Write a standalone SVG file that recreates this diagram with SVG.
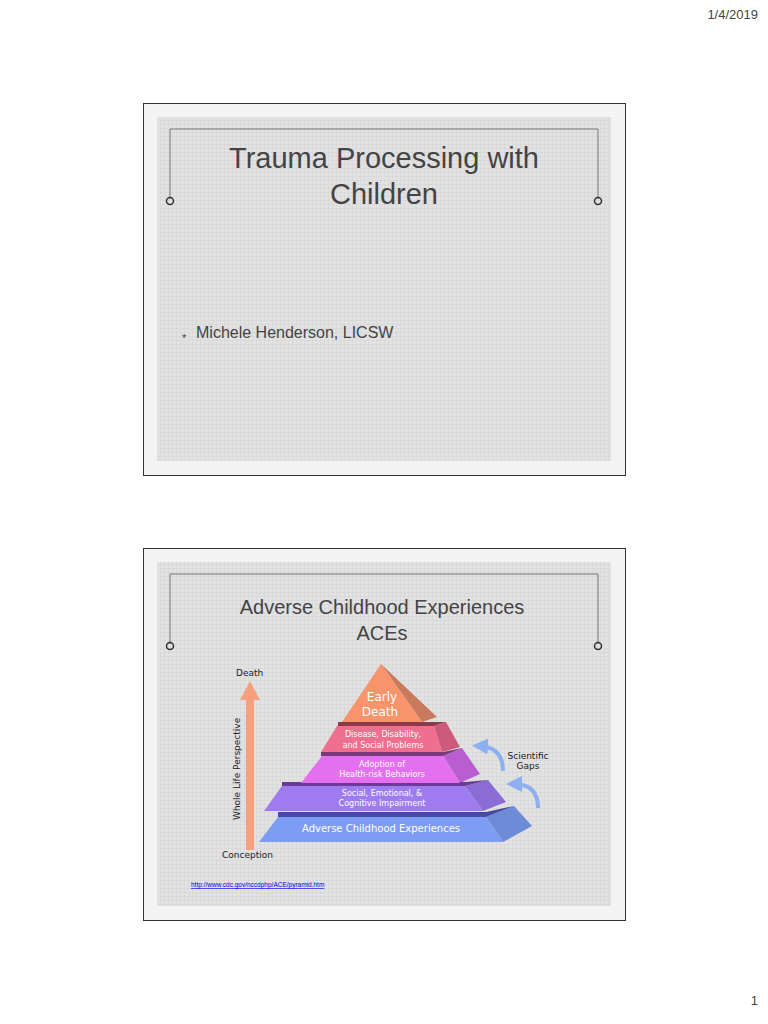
<svg xmlns="http://www.w3.org/2000/svg" width="768" height="1024" viewBox="0 0 768 1024">
<defs>
<pattern id="grid" width="4" height="4" patternUnits="userSpaceOnUse"><rect width="4" height="4" fill="#e2e2e2"/><path d="M0 0H4M0 0V4" stroke="#cfcfcf" stroke-width="0.8"/></pattern>
<marker id="ah" viewBox="0 0 10 10" refX="5" refY="5" markerWidth="4" markerHeight="4" orient="auto"><path d="M0 0L10 5L0 10z" fill="#8fb0f0"/></marker>
</defs>
<style>
.t{font-family:"Liberation Sans",Arial,sans-serif;fill:#444}
.w{font-family:"DejaVu Sans",sans-serif;fill:#fff;text-anchor:middle}
.s{font-family:"DejaVu Sans",sans-serif;fill:#222;font-size:9px}
.frame{fill:none;stroke:#777;stroke-width:1}
</style>
<rect width="768" height="1024" fill="#fff"/>
<text class="t" x="758" y="19" font-size="13" text-anchor="end" fill="#222">1/4/2019</text>
<text class="t" x="758" y="1005" font-size="13" text-anchor="end">1</text>

<g id="slide1">
<rect x="143.5" y="103.5" width="482" height="372" fill="#f4f4f4" stroke="#333"/>
<rect x="157" y="117" width="454" height="344" fill="url(#grid)"/>
<path class="frame" d="M170 199V129H598V199"/>
<circle cx="170" cy="201" r="3.5" fill="none" stroke="#333" stroke-width="1.5"/>
<circle cx="598" cy="201" r="3.5" fill="none" stroke="#333" stroke-width="1.5"/>
<text class="t" x="384" y="168" font-size="29" text-anchor="middle">Trauma Processing with</text>
<text class="t" x="384" y="204" font-size="29" text-anchor="middle">Children</text>
<text class="t" x="182" y="342" font-size="11" fill="#999">*</text>
<text class="t" x="196" y="338" font-size="16">Michele Henderson, LICSW</text>
</g>

<g id="slide2">
<rect x="143.5" y="548.5" width="482" height="372" fill="#f4f4f4" stroke="#333"/>
<rect x="157" y="562" width="454" height="344" fill="url(#grid)"/>
<path class="frame" d="M170 644V574H598V644"/>
<circle cx="170" cy="646" r="3.5" fill="none" stroke="#333" stroke-width="1.5"/>
<circle cx="598" cy="646" r="3.5" fill="none" stroke="#333" stroke-width="1.5"/>
<text class="t" x="382" y="614" font-size="20" text-anchor="middle">Adverse Childhood Experiences</text>
<text class="t" x="382" y="640" font-size="20" text-anchor="middle">ACEs</text>
<text x="191" y="887" font-family="Liberation Sans,sans-serif" font-size="6.5" fill="#0000ee" text-decoration="underline">http://www.cdc.gov/nccdphp/ACE/pyramid.htm</text>
</g>

<g id="pyramid">
<path d="M246 850V700H240L250 681L260 700H254V850z" fill="#f7a07e"/>
<text class="s" x="236" y="676">Death</text>
<text class="s" x="222" y="858">Conception</text>
<text class="s" transform="translate(240,820) rotate(-90)">Whole Life Perspective</text>
<!-- side faces -->
<path d="M486 817L503 842L532 826L514 806z" fill="#6e8bd8"/>
<path d="M465 786L483 811L506 802L488 780z" fill="#8a6cd4"/>
<path d="M443 756L460 783L480 774L462 748z" fill="#b85ed0"/>
<path d="M434 726L442 752L460 747L446 722z" fill="#cc5a7c"/>
<path d="M381 664L422 722L437 717z" fill="#c97a5c"/>
<!-- dark bands -->
<path d="M278 812H486L514 806L486 817H278z" fill="#4a4aa0"/>
<path d="M282 782H465L488 780L465 786H282z" fill="#6a3a9a"/>
<path d="M321 752H443L462 748L443 756H321z" fill="#7a3a7a"/>
<path d="M338 722H434L446 722L434 726H338z" fill="#8a3a4a"/>
<!-- fronts -->
<path d="M278 817H486L503 842H259z" fill="#7e9cf4"/>
<path d="M282 786H465L483 811H264z" fill="#9e7cf0"/>
<path d="M322 756H443L460 783H301z" fill="#e470f0"/>
<path d="M337 726H434L442 752H321z" fill="#f06e8e"/>
<path d="M381 664L422 722H342z" fill="#f7946c"/>
<text class="w" x="382" y="701" font-size="12">Early</text>
<text class="w" x="380" y="716" font-size="12">Death</text>
<text class="w" x="383" y="737" font-size="8">Disease, Disability,</text>
<text class="w" x="383" y="748" font-size="8">and Social Problems</text>
<text class="w" x="382" y="767" font-size="8">Adoption of</text>
<text class="w" x="382" y="777" font-size="8">Health-risk Behaviors</text>
<text class="w" x="382" y="796" font-size="8">Social, Emotional, &amp;</text>
<text class="w" x="382" y="806" font-size="8">Cognitive Impairment</text>
<text class="w" x="381" y="832" font-size="10">Adverse Childhood Experiences</text>
<text class="s" x="528" y="759" text-anchor="middle">Scientific</text>
<text class="s" x="528" y="769" text-anchor="middle">Gaps</text>
</g>
<g id="connectors">
<path d="M503 771C503 755 495 747 480 746" fill="none" stroke="#8fb0f0" stroke-width="4" marker-end="url(#ah)"/>
<path d="M538 808C538 792 530 784 514 784" fill="none" stroke="#8fb0f0" stroke-width="4" marker-end="url(#ah)"/>
</g>
</svg>
